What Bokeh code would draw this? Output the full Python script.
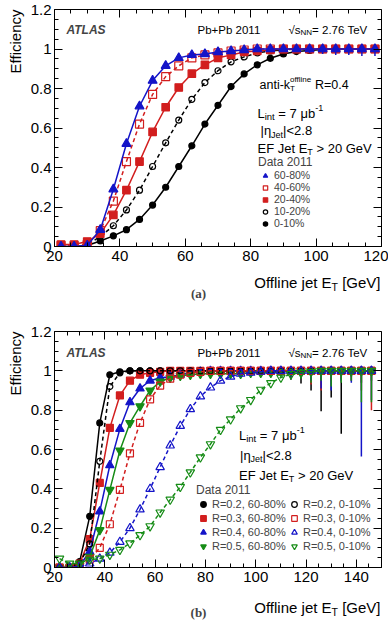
from bokeh.plotting import figure
from bokeh.models import (Range1d, LinearAxis, FixedTicker, Label, Legend, LegendItem,
                          ColumnDataSource, CustomJSTickFormatter, Title)
from bokeh.layouts import column
from bokeh.embed import file_html
from bokeh.resources import INLINE

FONT = "Liberation Sans"
BLUE = "#1414c8"
RED = "#d21e1e"
GREEN = "#168c16"
BLACK = "#000000"

# ---------------- shared axis ticks ----------------
y_ticks = [0, 0.2, 0.4, 0.6, 0.8, 1, 1.2]
y_tick_labels = ["0", "0.2", "0.4", "0.6", "0.8", "1", "1.2"]
y_minor = [0.05, 0.1, 0.15, 0.25, 0.3, 0.35, 0.45, 0.5, 0.55, 0.65, 0.7, 0.75,
           0.85, 0.9, 0.95, 1.05, 1.1, 1.15]
x_ticks_a = [20, 40, 60, 80, 100, 120]
x_ticks_b = [20, 40, 60, 80, 100, 120, 140]
x_minor_a = [25, 30, 35, 45, 50, 55, 65, 70, 75, 85, 90, 95, 105, 110, 115]
x_minor_b = [25, 30, 35, 45, 50, 55, 65, 70, 75, 85, 90, 95, 105, 110, 115,
             125, 130, 135, 145, 150]

# ---------------- panel (a): anti-kT R=0.4, by centrality ----------------
et_a = [22, 26, 30, 34, 38, 42, 46, 50, 54, 58, 62, 66, 70, 74, 78, 82, 86, 90, 94,
        98, 102, 106, 110, 114, 118]
eff_a_60_80 = [0.0, 0.0, 0.005, 0.085, 0.29, 0.52, 0.71, 0.84, 0.915, 0.955, 0.97, 0.975,
               0.985, 0.99, 0.995, 1.0, 1.0, 1.0, 1.0, 1.0, 1.0, 1.0, 1.0, 1.0, 1.0]
err_a_60_80 = [0.0, 0.0, 0.0, 0.01, 0.01, 0.01, 0.01, 0.01, 0.01, 0.01, 0.01, 0.01,
               0.01, 0.01, 0.01, 0.01, 0.015, 0.015, 0.015, 0.02, 0.025, 0.03, 0.03, 0.035, 0.035]
eff_a_40_60 = [0.005, 0.005, 0.01, 0.08, 0.23, 0.43, 0.62, 0.77, 0.86, 0.915, 0.955, 0.97,
               0.98, 0.99, 0.995, 1.0, 1.0, 1.0, 1.0, 1.0, 1.0, 1.0, 1.0, 1.0, 1.0]
eff_a_20_40 = [0.01, 0.01, 0.025, 0.065, 0.16, 0.285, 0.43, 0.58, 0.705, 0.805, 0.875, 0.92,
               0.955, 0.97, 0.985, 0.99, 0.995, 1.0, 1.0, 1.0, 1.0, 1.0, 1.0, 1.0, 1.0]
eff_a_10_20 = [0.0, 0.0, 0.01, 0.05, 0.105, 0.185, 0.285, 0.405, 0.525, 0.64, 0.745, 0.83,
               0.89, 0.935, 0.96, 0.98, 0.99, 0.995, 1.0, 1.0, 1.0, 1.0, 1.0, 1.0, 1.0]
eff_a_0_10 = [0.0, 0.0, 0.005, 0.028, 0.054, 0.085, 0.137, 0.21, 0.30, 0.405, 0.51, 0.62,
              0.715, 0.81, 0.874, 0.92, 0.953, 0.975, 0.987, 0.993, 0.997, 1.0, 1.0, 1.0, 1.0]

# ---------------- panel (b): R dependence, 60-80% vs 0-10% ----------------
et_b = [22, 26, 30, 34, 38, 42, 46, 50, 54, 58, 62, 66, 70, 74, 78, 82, 86, 90, 94, 98,
        102, 106, 110, 114, 118, 122, 126, 130, 134, 138, 142, 146]
eff_b_r02_60_80 = [0.0, 0.0, 0.03, 0.26, 0.735, 0.98, 0.995, 1.0, 1.0, 1.0, 1.0, 1.0, 1.0,
                   1.0, 1.0, 1.0, 1.0, 1.0, 1.0, 1.0, 1.0, 1.0, 1.0, 1.0, 1.0, 1.0, 1.0,
                   1.0, 1.0, 1.0, 1.0, 1.0]
eff_b_r03_60_80 = [0.0, 0.0, 0.02, 0.145, 0.43, 0.71, 0.875, 0.95, 0.98, 0.99, 0.995, 1.0,
                   1.0, 1.0, 1.0, 1.0, 1.0, 1.0, 1.0, 1.0, 1.0, 1.0, 1.0, 1.0, 1.0, 1.0,
                   1.0, 1.0, 1.0, 1.0, 1.0, 1.0]
eff_b_r04_60_80 = [0.0, 0.0, 0.01, 0.08, 0.285, 0.52, 0.705, 0.84, 0.91, 0.95, 0.965, 0.97,
                   0.98, 0.99, 0.995, 1.0, 1.0, 1.0, 1.0, 1.0, 1.0, 1.0, 1.0, 1.0, 1.0,
                   1.0, 1.0, 1.0, 1.0, 1.0, 1.0, 1.0]
eff_b_r05_60_80 = [0.0, 0.0, 0.01, 0.055, 0.19, 0.395, 0.595, 0.735, 0.82, 0.90, 0.945,
                   0.965, 0.975, 0.98, 0.985, 0.985, 0.985, 0.985, 0.985, 0.99, 0.99, 0.99,
                   0.995, 1.0, 1.0, 1.0, 1.0, 1.0, 1.0, 1.0, 1.0, 1.0]
eff_b_r02_0_10 = [0.0, 0.0, 0.02, 0.12, 0.54, 0.92, 0.99, 1.0, 1.0, 1.0, 1.0, 1.0, 1.0,
                  1.0, 1.0, 1.0, 1.0, 1.0, 1.0, 1.0, 1.0, 1.0, 1.0, 1.0, 1.0, 1.0, 1.0,
                  1.0, 1.0, 1.0, 1.0, 1.0]
eff_b_r03_0_10 = [0.0, 0.0, 0.005, 0.04, 0.10, 0.22, 0.395, 0.58, 0.735, 0.855, 0.925,
                  0.96, 0.98, 0.99, 0.995, 1.0, 1.0, 1.0, 1.0, 1.0, 1.0, 1.0, 1.0, 1.0,
                  1.0, 1.0, 1.0, 1.0, 1.0, 1.0, 1.0, 1.0]
eff_b_r04_0_10 = [0.0, 0.0, 0.005, 0.02, 0.045, 0.075, 0.13, 0.20, 0.295, 0.40, 0.51,
                  0.62, 0.72, 0.805, 0.87, 0.915, 0.95, 0.97, 0.985, 0.99, 0.995, 1.0,
                  1.0, 1.0, 1.0, 1.0, 1.0, 1.0, 1.0, 1.0, 1.0, 1.0]
eff_b_r05_0_10 = [0.045, 0.02, 0.02, 0.04, 0.045, 0.065, 0.09, 0.123, 0.165, 0.21, 0.28,
                  0.345, 0.41, 0.484, 0.56, 0.627, 0.70, 0.753, 0.81, 0.852, 0.904, 0.938,
                  0.966, 0.983, 0.99, 0.995, 1.0, 1.0, 1.0, 1.0, 1.0, 1.0]
# downward statistical errors of the peripheral (60-80%) points
err_b_r02_60_80 = [0, 0, 0, 0, 0, 0, 0, 0, 0, 0, 0, 0, 0, 0, 0, 0, 0, 0, 0, 0, 0, 0,
                   0.01, 0.045, 0.065, 0.10, 0.205, 0.135, 0.32, 0.03, 0.06, 0.05]
err_b_r03_60_80 = [0, 0, 0, 0, 0, 0, 0, 0, 0, 0, 0, 0, 0, 0, 0, 0, 0, 0, 0, 0, 0, 0,
                   0.01, 0.02, 0.03, 0.07, 0.10, 0.05, 0.04, 0.05, 0.10, 0.20]
err_b_r04_60_80 = [0, 0, 0, 0, 0, 0, 0, 0, 0, 0, 0, 0, 0, 0, 0, 0, 0, 0, 0, 0, 0, 0,
                   0.01, 0.03, 0.03, 0.05, 0.09, 0.10, 0.05, 0.06, 0.435, 0.15]
err_b_r05_60_80 = [0, 0, 0, 0, 0, 0, 0, 0, 0, 0, 0, 0, 0, 0, 0, 0, 0, 0, 0, 0, 0, 0,
                   0.01, 0.02, 0.04, 0.06, 0.05, 0.08, 0.06, 0.05, 0.16, 0.16]

# ---------------- text helpers (Arial / Liberation Sans advance widths) ----------------
AW = {' ': 278, '+': 584, '-': 333, '.': 278, ',': 278, '=': 584, '<': 584, '>': 584,
      '|': 260, '[': 278, ']': 278, '%': 889, '√': 549, 'μ': 576, 'η': 556,
      'A': 667, 'B': 667, 'D': 722, 'E': 667, 'F': 611, 'G': 778, 'J': 500, 'L': 556,
      'N': 722, 'O': 778, 'P': 667, 'R': 722, 'T': 611, 'V': 667,
      'a': 556, 'b': 556, 'e': 556, 'f': 278, 'i': 222, 'j': 222, 'k': 500, 'l': 222,
      'n': 556, 'o': 556, 's': 500, 't': 278}


def tw(s, size):
    return sum(AW.get(c, 556) for c in s) * size / 1000.0


def rich(p, x, y, segs, color="black"):
    """Left-aligned run of text pieces. segs: (text, size, dy, style, advance).
    x, y: screen px from the frame's left / bottom edge, y = baseline."""
    cx = x
    for t, s, dy, st, adv in segs:
        stripped = t.lstrip(" ")
        lead = tw(t[:len(t) - len(stripped)], s)
        p.add_layout(Label(x=cx + lead, y=y + dy, x_units="screen", y_units="screen",
                           text=stripped, text_font=FONT, text_font_size=f"{s}px",
                           text_font_style=st, text_color=color,
                           text_align="left", text_baseline="alphabetic"))
        if adv:
            cx += tw(t, s)


def rich_right(p, x_data, pad, y, segs, color="black"):
    """Right-aligned run ending `pad` px left of data x `x_data`."""
    off = pad
    for t, s, dy, st in reversed(segs):
        p.add_layout(Label(x=x_data, y=y + dy, x_units="data", y_units="screen",
                           x_offset=-off, text=t.strip(" "), text_font=FONT,
                           text_font_size=f"{s}px", text_font_style=st, text_color=color,
                           text_align="right", text_baseline="alphabetic"))
        off += tw(t, s)


W = 388          # page width (the page is rendered without body margin)
LEFT, RIGHT = 50, 7


def make_fig(height, x_end, top, bottom, xticks, xminor):
    p = figure(width=W, height=height, x_range=Range1d(20, x_end), y_range=Range1d(0, 1.2),
               output_backend="svg", toolbar_location=None, x_axis_type=None, y_axis_type=None,
               min_border_left=LEFT, min_border_right=RIGHT, min_border_top=top,
               min_border_bottom=bottom)
    p.xgrid.visible = False
    p.ygrid.visible = False
    p.outline_line_color = "black"
    p.outline_line_width = 1
    p.background_fill_color = "white"
    p.border_fill_color = "white"
    xt = FixedTicker(ticks=xticks, minor_ticks=xminor)
    yt = FixedTicker(ticks=y_ticks, minor_ticks=y_minor)
    for place, ticker, show, loc in (("below", xt, True, None), ("above", xt, False, 1.2),
                                     ("left", yt, True, None), ("right", yt, False, x_end)):
        ax = LinearAxis(ticker=ticker)
        ax.axis_line_color = "black"
        ax.major_tick_in = 8
        ax.major_tick_out = 0
        ax.minor_tick_in = 4
        ax.minor_tick_out = 0
        ax.major_tick_line_color = "black"
        ax.minor_tick_line_color = "black"
        if show:
            ax.major_label_text_font = FONT
            ax.major_label_text_font_size = "15px"
            ax.major_label_text_color = "black"
            ax.major_label_standoff = 4 if place == "below" else 3
            if place == "left":
                ax.major_label_overrides = dict(zip(y_ticks, y_tick_labels))
        else:
            # mirrored ticks on the frame edge, taking no border space
            ax.fixed_location = loc
            ax.formatter = CustomJSTickFormatter(code="return ''")
            ax.major_label_text_font_size = "0px"
            ax.major_label_standoff = 0
        p.add_layout(ax, place)
    # y-axis title, ROOT style: at the top end of the axis
    p.add_layout(Title(text="Efficiency", align="right", text_font=FONT,
                       text_font_size="15px", text_font_style="normal",
                       text_color="black", standoff=8), "left")
    return p


def strip(height):
    s = figure(width=W, height=height, x_range=Range1d(0, 1), y_range=Range1d(0, 1),
               output_backend="svg", toolbar_location=None, x_axis_type=None,
               y_axis_type=None, min_border=0, min_border_left=LEFT, min_border_right=RIGHT,
               min_border_top=0, min_border_bottom=0)
    s.outline_line_color = None
    s.xgrid.visible = False
    s.ygrid.visible = False
    s.background_fill_color = "white"
    s.border_fill_color = "white"
    return s


def series(p, x, y, color, marker, filled, dash, size, err=None):
    p.line(x, y, line_color=color, line_width=1.5, line_dash=dash)
    if err is not None:
        src = ColumnDataSource(dict(x=x, lo=[v - e for v, e in zip(y, err)], hi=y))
        p.segment(x0="x", y0="lo", x1="x", y1="hi", source=src, line_color=color, line_width=1.5)
    return p.scatter(x, y, marker=marker, size=size, line_color=color, line_width=1.2,
                     fill_color=color if filled else None)


def style_legend(lg, size):
    lg.border_line_color = None
    lg.background_fill_alpha = 0
    lg.padding = 0
    lg.margin = 0
    lg.spacing = 0
    lg.label_text_font = FONT
    lg.label_text_font_size = size
    lg.title_text_font = FONT
    lg.title_text_font_size = "12px"
    lg.title_text_font_style = "normal"
    lg.title_standoff = 0
    lg.label_standoff = 2
    lg.glyph_width = 14


def header(p, y):
    p.add_layout(Label(x=12, y=y, x_units="screen", y_units="screen", text="ATLAS",
                       text_font=FONT, text_font_size="12px", text_font_style="bold italic",
                       text_baseline="alphabetic"))
    rich(p, 143, y, [("Pb+Pb 2011", 11.5, 0, "normal", True)])
    rich(p, 234, y, [("√s", 11.5, 0, "normal", True), ("NN", 8, -3, "normal", True),
                     ("= 2.76 TeV", 11.5, 0, "normal", True)])


def xtitle(s, y):
    rich_right(s, 1, 1, y, [("Offline jet E", 15, 0, "normal"), ("T", 10.5, -4.5, "normal"),
                            (" [GeV]", 15, 0, "normal")])


def cuts(p, x, y0, dy, eta_dx):
    rich(p, x, y0, [("L", 13, 0, "normal", True), ("int", 9.5, -3, "normal", True),
                    (" = 7 μb", 13, 0, "normal", True), ("-1", 9, 5.5, "normal", True)])
    rich(p, x + eta_dx, y0 - dy, [("|η", 13, 0, "normal", True), ("Jet", 9, -4, "normal", True),
                                  ("|<2.8", 13, 0, "normal", True)])
    rich(p, x, y0 - 2 * dy, [("EF Jet E", 13, 0, "normal", True), ("T", 9, -4, "normal", True),
                             (" > 20 GeV", 13, 0, "normal", True)])


def panel_tag(s, text, x, y):
    s.add_layout(Label(x=x, y=y, x_units="screen", y_units="screen", text=text,
                       text_font="Liberation Serif", text_font_size="13px",
                       text_font_style="bold", text_align="center", text_baseline="middle"))


# ================= panel (a) =================  page rows 0-268
p1 = make_fig(9 + 237 + 22, 120, 9, 22, x_ticks_a, x_minor_a)
r_0_10 = series(p1, et_a, eff_a_0_10, BLACK, "circle", True, "solid", 6)
r_10_20 = series(p1, et_a, eff_a_10_20, BLACK, "circle", False, "4 3", 6)
r_20_40 = series(p1, et_a, eff_a_20_40, RED, "square", True, "solid", 7.5)
r_40_60 = series(p1, et_a, eff_a_40_60, RED, "square", False, "4 3", 8)
r_60_80 = series(p1, et_a, eff_a_60_80, BLUE, "triangle", True, "solid", 9, err_a_60_80)

lg1 = Legend(items=[LegendItem(label="60-80%", renderers=[r_60_80]),
                    LegendItem(label="40-60%", renderers=[r_40_60]),
                    LegendItem(label="20-40%", renderers=[r_20_40]),
                    LegendItem(label="10-20%", renderers=[r_10_20]),
                    LegendItem(label="0-10%", renderers=[r_0_10])],
             location=(204, 17), title="Data 2011")
style_legend(lg1, "10.5px")
lg1.label_height = 11
lg1.glyph_height = 11
lg1.label_text_line_height = 1.0
p1.add_layout(lg1)

header(p1, 216.7)
rich(p1, 205, 161.3, [("anti-k", 12.5, 0, "normal", True), ("T", 8, -3.5, "normal", False),
                      ("offline", 8, 5.5, "normal", True), (" R=0.4", 12.5, 0, "normal", True)])
cuts(p1, 203, 133.5, 17.5, 3)

# strip under panel (a) (rows 268-305); frame aligned with the panel frame by the column
s1 = strip(37)
xtitle(s1, 23)
panel_tag(s1, "(a)", 144, 12)

# ================= panel (b) =================  page rows 305-589
p2 = make_fig(26 + 236 + 22, 150, 26, 22, x_ticks_b, x_minor_b)
f02 = series(p2, et_b, eff_b_r02_60_80, BLACK, "circle", True, "solid", 6, err_b_r02_60_80)
f03 = series(p2, et_b, eff_b_r03_60_80, RED, "square", True, "solid", 7, err_b_r03_60_80)
f04 = series(p2, et_b, eff_b_r04_60_80, BLUE, "triangle", True, "solid", 8.5, err_b_r04_60_80)
f05 = series(p2, et_b, eff_b_r05_60_80, GREEN, "inverted_triangle", True, "solid", 8.5,
             err_b_r05_60_80)
o02 = series(p2, et_b, eff_b_r02_0_10, BLACK, "circle", False, "4 3", 6)
o03 = series(p2, et_b, eff_b_r03_0_10, RED, "square", False, "4 3", 7)
o04 = series(p2, et_b, eff_b_r04_0_10, BLUE, "triangle", False, "4 3", 8.5)
o05 = series(p2, et_b, eff_b_r05_0_10, GREEN, "inverted_triangle", False, "4 3", 8.5)

lg2 = Legend(items=[LegendItem(label="R=0.2, 60-80%", renderers=[f02]),
                    LegendItem(label="R=0.3, 60-80%", renderers=[f03]),
                    LegendItem(label="R=0.4, 60-80%", renderers=[f04]),
                    LegendItem(label="R=0.5, 60-80%", renderers=[f05]),
                    LegendItem(label="R=0.2, 0-10%", renderers=[o02]),
                    LegendItem(label="R=0.3, 0-10%", renderers=[o03]),
                    LegendItem(label="R=0.4, 0-10%", renderers=[o04]),
                    LegendItem(label="R=0.5, 0-10%", renderers=[o05])],
             location=(142, 14), title="Data 2011", ncols=2)
style_legend(lg2, "11px")
lg2.label_height = 14
lg2.glyph_height = 14
lg2.label_width = 75
p2.add_layout(lg2)

header(p2, 214.7)
cuts(p2, 184.5, 132.3, 20, 1)

# strip under panel (b) (rows 589-620)
s2 = strip(31)
xtitle(s2, 13)
panel_tag(s2, "(b)", 144, 8)

layout = column(p1, s1, p2, s2, spacing=0)
open("out.html", "w").write(file_html(layout, INLINE))
